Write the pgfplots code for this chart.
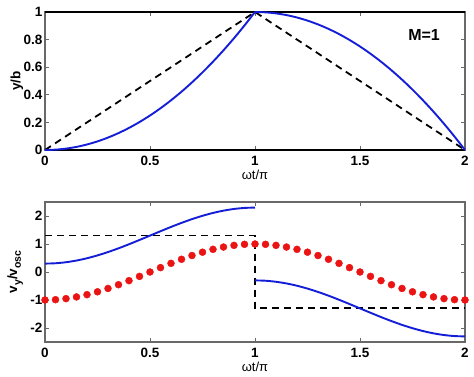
\documentclass[border=0pt]{standalone}
\usepackage{pgfplots}
\pgfplotsset{compat=1.18}
\usepackage{fontspec}
\setmainfont{Liberation Sans}
\definecolor{mblue}{RGB}{20,30,215}
\definecolor{mred}{RGB}{235,20,20}
\definecolor{axgray}{RGB}{105,105,105}
\pgfplotsset{
  myaxis/.style={
    scale only axis, width=420pt,
    xmin=0, xmax=2,
    xtick={0,0.5,1,1.5,2},
    xticklabels={0,0.5,1,1.5,2},
    axis line style={axgray, line width=1.1pt},
    tick style={axgray, line width=0.8pt},
    major tick length=4pt,
    tick align=inside,
    /pgf/number format/assume math mode=true,
    tick label style={font=\bfseries\fontsize{13.5}{15}\selectfont, text=black},
    xticklabel style={yshift=-3pt},
    yticklabel style={xshift=1pt},
    xlabel={ωt/π},
    xlabel style={font=\fontsize{13}{15}\selectfont, at={(axis description cs:0.5,0)}, anchor=center, yshift=-25pt},
    ylabel style={font=\bfseries\fontsize{13.5}{15}\selectfont, anchor=center, rotate=0},
    clip=false,
  }
}
\begin{document}
\begin{tikzpicture}[x=1pt,y=1pt]
\path (0,0) rectangle (474,377);
\begin{axis}[myaxis, at={(45pt,227pt)}, anchor=south west, height=138pt,
  ymin=0, ymax=1,
  ytick={0,0.2,0.4,0.6,0.8,1},
  yticklabels={0,0.2,0.4,0.6,0.8,1},
  ylabel={y/b},
  ylabel style={at={(axis description cs:-0.067,0.5)}},
]
\addplot[black, line width=2.6pt] coordinates {(0,1) (2,1)};
\addplot[black, line width=2.6pt] coordinates {(0,0) (2,0)};
\addplot[black, line width=1.8pt, dash pattern=on 7pt off 5pt] coordinates {(0,0) (1,1) (2,0)};
\addplot[mblue, line width=1.9pt, smooth] coordinates {
(0,0) (0.05,0.0025) (0.1,0.01) (0.15,0.0225) (0.2,0.04) (0.25,0.0625) (0.3,0.09) (0.35,0.1225) (0.4,0.16) (0.45,0.2025) (0.5,0.25) (0.55,0.3025) (0.6,0.36) (0.65,0.4225) (0.7,0.49) (0.75,0.5625) (0.8,0.64) (0.85,0.7225) (0.9,0.81) (0.95,0.9025) (1,1)};
\addplot[mblue, line width=1.9pt, smooth] coordinates {
(1,1) (1.05,0.9975) (1.1,0.99) (1.15,0.9775) (1.2,0.96) (1.25,0.9375) (1.3,0.91) (1.35,0.8775) (1.4,0.84) (1.45,0.7975) (1.5,0.75) (1.55,0.6975) (1.6,0.64) (1.65,0.5775) (1.7,0.51) (1.75,0.4375) (1.8,0.36) (1.85,0.2775) (1.9,0.19) (1.95,0.0975) (2,0)};
\node[font=\bfseries\fontsize{16}{18}\selectfont] at (axis cs:1.805,0.833) {M=1};
\end{axis}
\begin{axis}[myaxis, at={(45pt,35pt)}, anchor=south west, height=140pt,
  ymin=-2.5, ymax=2.5,
  ytick={-2,-1,0,1,2},
  yticklabels={-2,-1,0,1,2},
  ylabel={v\raisebox{-0.5ex}{\fontsize{10.5}{10}\selectfont y}/v\raisebox{-0.5ex}{\fontsize{10.5}{10}\selectfont osc}},
  ylabel style={at={(axis description cs:-0.071,0.5)}},
]
\addplot[black, line width=1.8pt, dash pattern=on 7pt off 5pt] coordinates {(0,1.3) (1,1.3) (1,-1.3) (2,-1.3)};
\addplot[mblue, line width=1.9pt, smooth] coordinates {
(0,0.3) (0.05,0.312) (0.1,0.349) (0.15,0.409) (0.2,0.491) (0.25,0.593) (0.3,0.712) (0.35,0.846) (0.4,0.991) (0.45,1.144) (0.5,1.3) (0.55,1.456) (0.6,1.609) (0.65,1.754) (0.7,1.888) (0.75,2.007) (0.8,2.109) (0.85,2.191) (0.9,2.251) (0.95,2.288) (1,2.3)};
\addplot[mblue, line width=1.9pt, smooth] coordinates {
(1,-0.3) (1.05,-0.312) (1.1,-0.349) (1.15,-0.409) (1.2,-0.491) (1.25,-0.593) (1.3,-0.712) (1.35,-0.846) (1.4,-0.991) (1.45,-1.144) (1.5,-1.3) (1.55,-1.456) (1.6,-1.609) (1.65,-1.754) (1.7,-1.888) (1.75,-2.007) (1.8,-2.109) (1.85,-2.191) (1.9,-2.251) (1.95,-2.288) (2,-2.3)};
\addplot[only marks, mark=*, mark size=3.5pt, mred, mark options={draw=mred, fill=mred}] coordinates {
(0,-1) (0.05,-0.988) (0.1,-0.951) (0.15,-0.891) (0.2,-0.809) (0.25,-0.707) (0.3,-0.588) (0.35,-0.454) (0.4,-0.309) (0.45,-0.156) (0.5,0) (0.55,0.156) (0.6,0.309) (0.65,0.454) (0.7,0.588) (0.75,0.707) (0.8,0.809) (0.85,0.891) (0.9,0.951) (0.95,0.988) (1,1) (1.05,0.988) (1.1,0.951) (1.15,0.891) (1.2,0.809) (1.25,0.707) (1.3,0.588) (1.35,0.454) (1.4,0.309) (1.45,0.156) (1.5,0) (1.55,-0.156) (1.6,-0.309) (1.65,-0.454) (1.7,-0.588) (1.75,-0.707) (1.8,-0.809) (1.85,-0.891) (1.9,-0.951) (1.95,-0.988) (2,-1)};
\end{axis}
\end{tikzpicture}
\end{document}
